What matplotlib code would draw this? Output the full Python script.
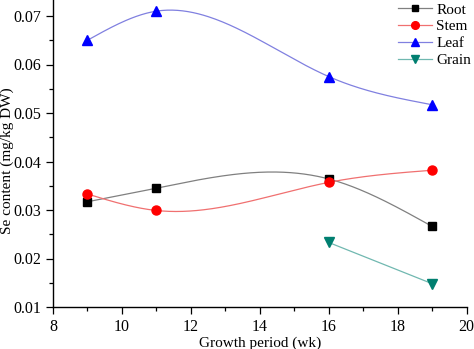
import numpy as np
import matplotlib
matplotlib.use("Agg")
import matplotlib.pyplot as plt
from matplotlib.ticker import MultipleLocator

# Data
weeks = [9, 11, 16, 19]
root = [0.0317, 0.0345, 0.0364, 0.0266]
stem = [0.0333, 0.0299, 0.0357, 0.0382]
leaf = [0.0650, 0.0710, 0.0575, 0.0517]
grain_weeks = [16, 19]
grain = [0.0233, 0.0148]


def natural_spline(x, y, n=200):
    """Natural cubic spline through the points, used only to draw the smooth line."""
    x = np.asarray(x, float)
    y = np.asarray(y, float)
    k = len(x)
    h = np.diff(x)
    A = np.zeros((k, k))
    r = np.zeros(k)
    A[0, 0] = A[-1, -1] = 1.0
    for i in range(1, k - 1):
        A[i, i - 1] = h[i - 1]
        A[i, i] = 2 * (h[i - 1] + h[i])
        A[i, i + 1] = h[i]
        r[i] = 3 * ((y[i + 1] - y[i]) / h[i] - (y[i] - y[i - 1]) / h[i - 1])
    c = np.linalg.solve(A, r)
    xs = np.linspace(x[0], x[-1], n)
    idx = np.clip(np.searchsorted(x, xs) - 1, 0, k - 2)
    dx = xs - x[idx]
    hi = h[idx]
    b = (y[idx + 1] - y[idx]) / hi - hi * (2 * c[idx] + c[idx + 1]) / 3
    d = (c[idx + 1] - c[idx]) / (3 * hi)
    ys = y[idx] + b * dx + c[idx] * dx ** 2 + d * dx ** 3
    return xs, ys


plt.rcParams["font.family"] = ["Liberation Serif", "DejaVu Serif"]
plt.rcParams["font.size"] = 11

fig = plt.figure(figsize=(4.74, 3.49), dpi=100)
ax = fig.add_axes([53 / 474, 42 / 349, 413.7 / 474, 307 / 349])

series = [
    ("Root", weeks, root, "#808080", "black", "s", 5.5),
    ("Stem", weeks, stem, "#f07070", "red", "o", 6.5),
    ("Leaf", weeks, leaf, "#8080e0", "blue", "^", 7),
    ("Grain", grain_weeks, grain, "#70b8b0", "#007f70", "v", 7),
]

handles = []
for name, xv, yv, lc, mc, mk, ms in series:
    if len(xv) > 2:
        xs, ys = natural_spline(xv, yv)
    else:
        xs, ys = xv, yv
    ax.plot(xs, ys, color=lc, lw=0.9, zorder=2)
    ax.plot(xv, yv, ls="none", marker=mk, ms=ms, color=mc, zorder=3)
    h, = ax.plot([], [], color=lc, lw=0.9, marker=mk, ms=ms * 0.85, mfc=mc, mec=mc)
    handles.append(h)

ax.set_xlim(8, 20)
ax.set_ylim(0.01, 0.01 + 307 / 4850)
ax.xaxis.set_major_locator(MultipleLocator(2))
ax.xaxis.set_minor_locator(MultipleLocator(1))
ax.yaxis.set_major_locator(MultipleLocator(0.01))
ax.yaxis.set_minor_locator(MultipleLocator(0.005))
ax.yaxis.set_major_formatter(plt.FuncFormatter(lambda v, p: f"{v:.2f}"))
ax.tick_params(which="major", direction="out", length=5, width=0.9, labelsize=11.5)
ax.tick_params(which="minor", direction="out", length=3, width=0.9)
ax.spines["top"].set_visible(False)
ax.spines["right"].set_visible(False)
for s in ("left", "bottom"):
    ax.spines[s].set_linewidth(1.0)

ax.set_xlabel("Growth period (wk)", fontsize=11, labelpad=1)
fig.text(7 / 474, 1 - 161 / 349, "Se content (mg/kg DW)", rotation=90,
         ha="center", va="center", fontsize=11)

fig.legend(handles, [s[0] for s in series], loc="upper left",
           bbox_to_anchor=(398 / 474, 1 - 3 / 349), frameon=False,
           handlelength=2.2, handletextpad=0.3, labelspacing=0.2,
           borderaxespad=0, borderpad=0, fontsize=11)

fig.savefig("out.png", dpi=100)
